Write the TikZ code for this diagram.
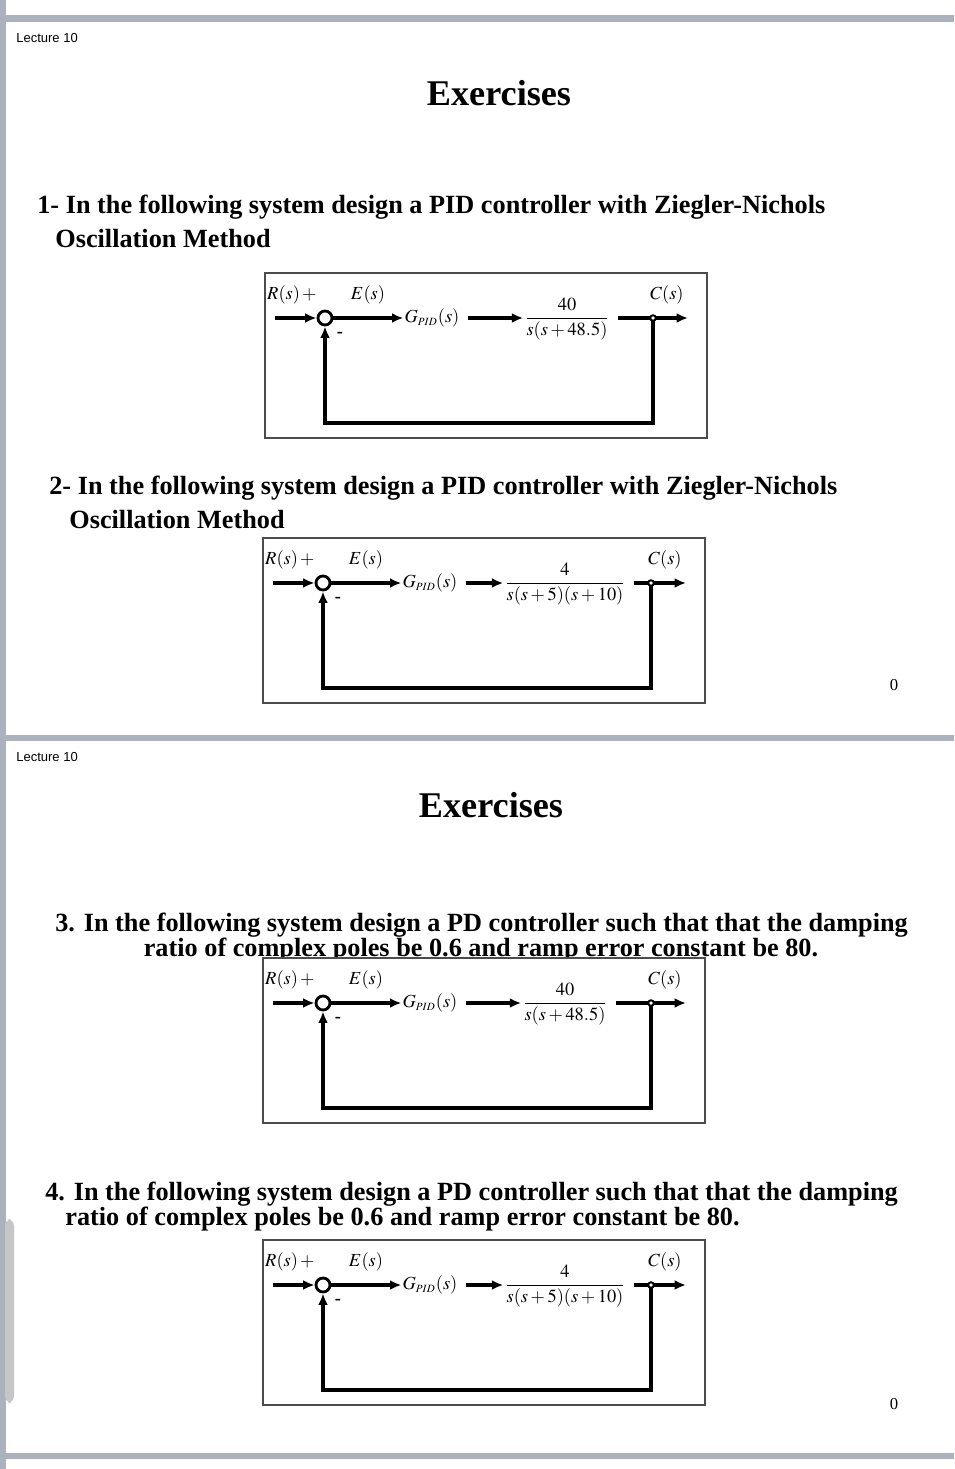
\documentclass[tikz,border=0pt]{standalone}
\usepackage{mathptmx}
\usepackage{amsmath}
\usepackage{fontspec}
\setmainfont{Liberation Serif}
\setsansfont{Liberation Sans}
\usetikzlibrary{arrows.meta}

\definecolor{framegray}{RGB}{171,178,189}
\definecolor{scrollgray}{RGB}{198,198,198}

\newcommand{\lecfont}{\fontsize{7.4}{9}\sffamily\selectfont}
\newcommand{\titlefont}{\fontsize{20.6}{24}\bfseries\selectfont}
\newcommand{\qfont}{\fontsize{14.95}{18}\bfseries\selectfont}
\newcommand{\bdfont}{\fontsize{10.5}{12}\selectfont}

% one closed loop: #1,#2 = top left corner of the frame, #3/#4 = plant
\newcommand{\loopdiagram}[4]{%
\begin{scope}[shift={(#1,#2)}]
\draw[boxline] (0,0) rectangle (442,165);
\coordinate (in) at (10,45);
\coordinate (out) at (423,45);
\node[sumpt] (sum) at (60,45) {};
\node[lbl,anchor=west] (rlbl) at (1,22) {$R(s)\,+$};
\node[lbl] (elbl) at (103,22) {$E(s)$};
\node[lbl,font=\bdfont\bfseries] (minus) at (75,62) {-};
\node[lbl] (gpid) at (167,45) {$G_{\scriptscriptstyle PID}(s)$};
\node[lbl,anchor=base] (plant) at (302,49.5) {$\dfrac{#3}{#4}$};
\node[lbl] (clbl) at (402,22) {$C(s)$};
\coordinate (pick) at (388,45);
\draw[sig] (in) -- (sum);
\draw[sig] (sum) -- (sum -| gpid.west);
\draw[sig,shorten <=4pt] (sum -| gpid.east) -- (sum -| plant.west);
\draw[sig,shorten <=4pt] (sum -| plant.east) -- (out);
\draw[sig] (pick) -- ++(0,105) -| (sum);
\node[pickpt] (dot) at (pick) {};
\end{scope}}

\begin{document}
\begin{tikzpicture}[x=0.02cm,y=-0.02cm,
  sig/.style={line width=1.8pt,-{Latex[length=6.5pt,width=5.6pt]}},
  boxline/.style={draw=black!70,line width=0.7pt,fill=white},
  sumpt/.style={circle,draw,line width=1.6pt,fill=white,inner sep=0pt,minimum size=0.28cm},
  pickpt/.style={circle,draw,line width=1.1pt,fill=white,inner sep=0pt,minimum size=0.11cm},
  lbl/.style={font=\bdfont,inner sep=0.5pt},
  lec/.style={font=\lecfont,anchor=west,inner sep=0pt},
  ttl/.style={font=\titlefont,inner sep=0pt},
  qtxt/.style={font=\qfont,anchor=west,inner sep=0pt},
  pnum/.style={font=\fontsize{9.5}{11}\selectfont,inner sep=0pt}]
\fill[white] (0,0) rectangle (954,1469);
\useasboundingbox (0,0) rectangle (954,1469);

\fill[framegray] (0,0) rectangle (6,1469);
\fill[framegray] (0,15) rectangle (954,22);
\fill[framegray] (0,735) rectangle (954,741);
\fill[framegray] (0,1453) rectangle (954,1459);
\fill[scrollgray,rounded corners=4pt] (5,1219) rectangle (14,1403);

% first slide
\node[lec] (lec1) at (16,38) {Lecture 10};
\node[ttl] (title1) at (499,93) {Exercises};
\node[qtxt] (q1a) at (37,207) {1- In the following system design a PID controller with Ziegler-Nichols};
\node[qtxt] (q1b) at (55,239) {Oscillation Method};
\loopdiagram{265}{273}{40}{s(s+48.5)}
\node[qtxt] (q2a) at (49,488) {2- In the following system design a PID controller with Ziegler-Nichols};
\node[qtxt] (q2b) at (69,520) {Oscillation Method};
\loopdiagram{263}{538}{4}{s(s+5)(s+10)}
\node[pnum] (p1) at (894,685) {0};

% second slide
\node[lec] (lec2) at (16,757) {Lecture 10};
\node[ttl] (title2) at (491,805) {Exercises};
\node[qtxt] (q3a) at (55,925) {3. In the following system design a PD controller such that that the damping};
\node[qtxt,anchor=center] (q3b) at (481,950) {ratio of complex poles be 0.6 and ramp error constant be 80.};
\loopdiagram{263}{958}{40}{s(s+48.5)}
\node[qtxt] (q4a) at (45,1194) {4. In the following system design a PD controller such that that the damping};
\node[qtxt] (q4b) at (65,1219) {ratio of complex poles be 0.6 and ramp error constant be 80.};
\loopdiagram{263}{1240}{4}{s(s+5)(s+10)}
\node[pnum] (p2) at (894,1404) {0};
\end{tikzpicture}
\end{document}
